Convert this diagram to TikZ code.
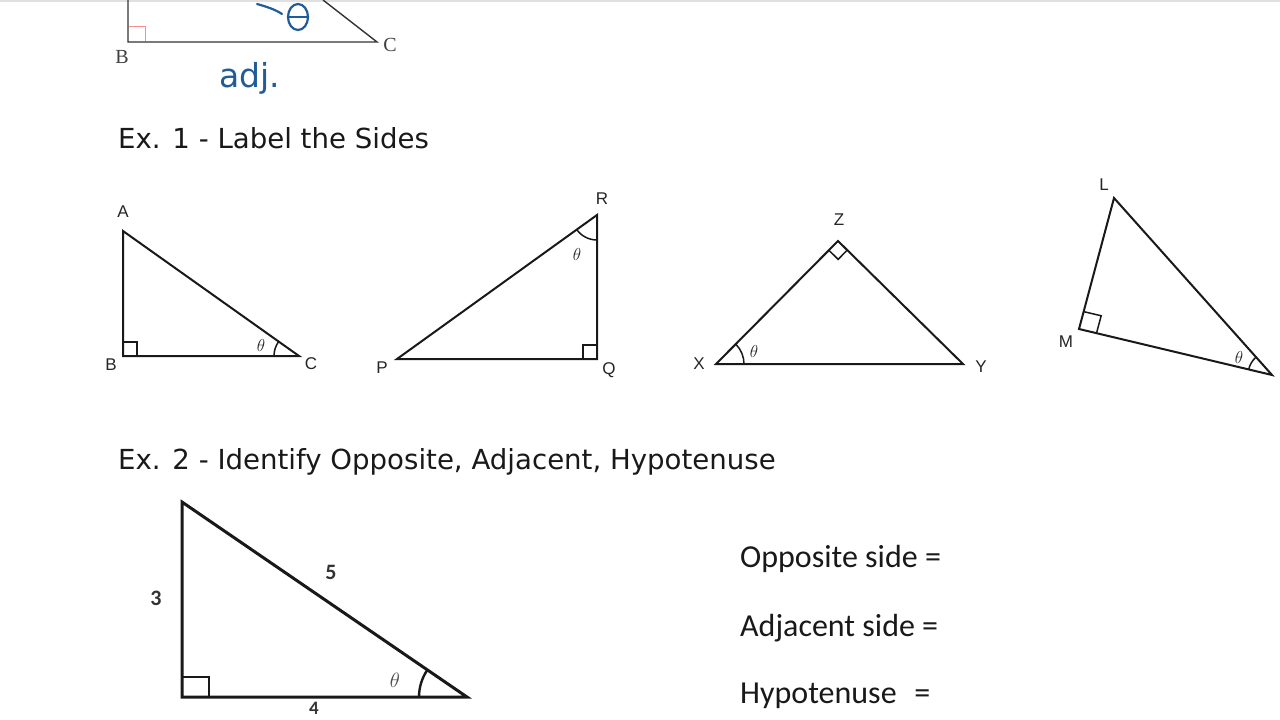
\documentclass[tikz,border=0pt]{standalone}
\usepackage{fontspec}
\setmainfont{DejaVu Sans}
\newfontfamily\arialf{Liberation Sans}
\newfontfamily\calibrif{Carlito}
\newfontfamily\timesf{Liberation Serif}
\usetikzlibrary{calc,angles}
\begin{document}
\begin{tikzpicture}[x=1pt,y=-1pt,
  tri/.style={line width=2pt, line join=miter, color=black!90},
  bigtri/.style={line width=3pt, line join=miter, color=black!90},
  rmark/.style={line width=1.5pt, color=black!90},
  amark/.style={draw, line width=1.5pt, color=black!90},
  vlab/.style={font=\arialf\fontsize{17}{20}\selectfont, inner sep=0pt, text=black!85},
  thlab/.style={font=\fontsize{17}{20}\selectfont, inner sep=0pt, text=black!85},
  head/.style={font=\fontsize{27.6}{32}\selectfont, anchor=base west, inner sep=0pt, text=black!90},
  ans/.style={font=\calibrif\fontsize{32}{38}\selectfont, anchor=base west, inner sep=0pt, text=black!90},
  numlab/.style={font=\calibrif\bfseries\fontsize{22}{26}\selectfont, inner sep=0pt, text=black!80},
  hand/.style={color=handblue, line width=2.2pt, line cap=round, line join=round},
  toplab/.style={font=\timesf\fontsize{20}{24}\selectfont, inner sep=0pt, text=black!75}
]
\definecolor{handblue}{HTML}{1F5C99}
\useasboundingbox (0,0) rectangle (1280,720);
\fill[white] (0,0) rectangle (1280,720);
% top strip
\draw[black!12, line width=2pt] (0,1) coordinate (gl) -- (1280,1) coordinate (gr);
% partial triangle at top
\coordinate (tB) at (128,42);
\coordinate (tC) at (377,42);
\coordinate (tT) at (128,0);
\coordinate (tH) at (323,0);
\draw[black!80, line width=1.4pt] (tT) -- (tB) -- (tC) -- (tH);
\draw[red!45, line width=0.9pt] (129,26) -- (145,26) -- (145,41);
\node[toplab] (tlB) at (122,57) {B};
\node[toplab] (tlC) at (390,45) {C};
% handwriting
\draw[hand] (257,4) .. controls (268,7) and (276,10) .. (282,14);
\draw[hand] (298,17) ellipse (10pt and 13pt);
\draw[hand] (288,17) -- (308,17);
\node[font=\fontsize{33}{38}\selectfont, text=handblue, inner sep=0pt] (adj) at (250,78) {adj.};

% headings
\node[head] (ex1) at (118,148) {Ex. 1 - Label the Sides};
\node[head] (ex2) at (118,469) {Ex. 2 - Identify Opposite, Adjacent, Hypotenuse};

% triangle 1
\coordinate (A) at (123,231);
\coordinate (B) at (123,356);
\coordinate (C) at (299,356);
\draw[tri] (A) -- (B) -- (C) -- cycle;
\draw[rmark] ($(B)+(0,-14)$) -- ($(B)+(14,-14)$) -- ($(B)+(14,0)$);
\pic[amark, angle radius=25pt] {angle = A--C--B};
\node[vlab] (lA) at (123,212) {A};
\node[vlab] (lB) at (111,365) {B};
\node[vlab] (lC) at (311,364) {C};
\node[thlab] (th1) at (261,345) {$\theta$};

% triangle 2
\coordinate (P) at (397,359);
\coordinate (Q) at (597,359);
\coordinate (R) at (597,215);
\draw[tri] (P) -- (Q) -- (R) -- cycle;
\draw[rmark] ($(Q)+(-14,0)$) -- ($(Q)+(-14,-14)$) -- ($(Q)+(0,-14)$);
\pic[amark, angle radius=25pt] {angle = P--R--Q};
\node[vlab] (lR) at (602,199) {R};
\node[vlab] (lP) at (382,368) {P};
\node[vlab] (lQ) at (609,370) {Q};
\node[thlab] (th2) at (577,254) {$\theta$};

% triangle 3
\coordinate (X) at (716,364);
\coordinate (Y) at (963,364);
\coordinate (Z) at (838,241);
\draw[tri] (X) -- (Y) -- (Z) -- cycle;
\coordinate (z1) at ($(Z)!13pt!(X)$);
\coordinate (z2) at ($(Z)!13pt!(Y)$);
\draw[rmark] (z1) -- ($(z1)+(z2)-(Z)$) -- (z2);
\pic[amark, angle radius=28pt] {angle = Y--X--Z};
\node[vlab] (lZ) at (839,220) {Z};
\node[vlab] (lX) at (699,364) {X};
\node[vlab] (lY) at (981,367) {Y};
\node[thlab] (th3) at (754,351) {$\theta$};

% triangle 4
\coordinate (L) at (1114,198);
\coordinate (M) at (1079,329);
\coordinate (N) at (1272,375);
\draw[tri] (L) -- (M) -- (N) -- cycle;
\coordinate (m1) at ($(M)!18pt!(L)$);
\coordinate (m2) at ($(M)!18pt!(N)$);
\draw[rmark] (m1) -- ($(m1)+(m2)-(M)$) -- (m2);
\pic[amark, angle radius=24pt] {angle = L--N--M};
\node[vlab] (lL) at (1104,185) {L};
\node[vlab] (lM) at (1066,342) {M};
\node[thlab] (th4) at (1239,357) {$\theta$};

% Ex. 2 triangle
\coordinate (T) at (182,502);
\coordinate (S) at (182,697);
\coordinate (V) at (467,697);
\draw[bigtri] (T) -- (S) -- (V) -- cycle;
\draw[line width=2.4pt, color=black!90] ($(S)+(0,-20)$) -- ($(S)+(27,-20)$) -- ($(S)+(27,0)$);
\pic[draw, line width=2.4pt, color=black!90, angle radius=48pt] {angle = T--V--S};
\node[numlab] (n3) at (156,598) {3};
\node[numlab] (n5) at (331,572) {5};
\node[numlab, font=\calibrif\bfseries\fontsize{19}{22}\selectfont] (n4) at (314,708.5) {4};
\node[font=\fontsize{22}{26}\selectfont, inner sep=0pt, text=black!70] (th5) at (395,680) {$\theta$};

% answers
\node[ans] (opp) at (740,567) {Opposite side =};
\node[ans] (adjs) at (740,636) {Adjacent side =};
\node[ans] (hyp) at (740,703) {Hypotenuse\hspace{0.55em}=};
\end{tikzpicture}
\end{document}
